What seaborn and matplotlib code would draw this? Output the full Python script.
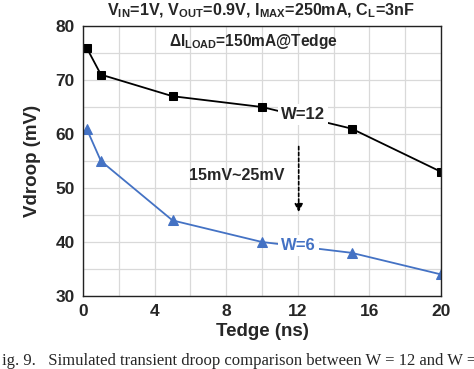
import numpy as np
import pandas as pd
import matplotlib
matplotlib.use("Agg")
import matplotlib.pyplot as plt
import seaborn as sns

tedge = [0.2, 1, 5, 10, 15, 20]
w12 = [76, 71, 67, 65, 61, 53]
w6 = [61, 55, 44, 40, 38, 34]
xticks = [0, 4, 8, 12, 16, 20]
yticks = [30, 40, 50, 60, 70, 80]

sns.set_style("white")
plt.rcParams['font.family'] = ['Liberation Sans', 'DejaVu Sans']
plt.rcParams['font.weight'] = 'bold'
plt.rcParams['mathtext.fontset'] = 'custom'
plt.rcParams['mathtext.rm'] = 'Liberation Sans:bold'
plt.rcParams['mathtext.it'] = 'Liberation Sans:bold'
plt.rcParams['mathtext.bf'] = 'Liberation Sans:bold'

df = pd.DataFrame({"Tedge": tedge * 2, "Vdroop": w12 + w6,
                   "W": ["W=12"] * 6 + ["W=6"] * 6})

fig = plt.figure(figsize=(4.74, 3.69), dpi=100)
ax = fig.add_axes([83 / 474, 1 - 296 / 369, (441 - 83) / 474, (296 - 26) / 369])

blue = "#4472C4"
sns.lineplot(data=df[df.W == "W=12"], x="Tedge", y="Vdroop", ax=ax, color="black",
             marker="s", markersize=6, markeredgecolor="black", linewidth=1.3)
sns.lineplot(data=df[df.W == "W=6"], x="Tedge", y="Vdroop", ax=ax, color=blue,
             marker="^", markersize=6.5, markeredgecolor=blue, linewidth=1.3)

ax.set_xlim(0, 20)
ax.set_ylim(30, 80)
ax.set_xticks(xticks)
ax.set_yticks(yticks)
ax.set_xticks(np.arange(0, 21, 2), minor=True)
ax.set_yticks(np.arange(30, 81, 5), minor=True)
ax.grid(which="both", color="#d9d9d9", linewidth=0.9)
ax.set_axisbelow(True)
ax.tick_params(which="both", length=0, labelsize=12.5, pad=6)
for lab in ax.get_xticklabels() + ax.get_yticklabels():
    lab.set_fontweight("bold")
for s in ax.spines.values():
    s.set_color("#222222")
    s.set_linewidth(1.0)

ax.set_xlabel("Tedge (ns)", fontsize=13.5, fontweight="bold", labelpad=3)
ax.set_ylabel("Vdroop (mV)", fontsize=13.5, fontweight="bold", labelpad=10)

ax.text(12.3, 63.6, "W=12", fontsize=12, fontweight="bold", ha="center", va="center",
        bbox=dict(facecolor="white", edgecolor="none", pad=2))
ax.text(12.05, 39.3, "W=6", fontsize=12, fontweight="bold", color=blue, ha="center",
        va="center", bbox=dict(facecolor="white", edgecolor="none", pad=2))
ax.text(8.6, 52.3, "15mV~25mV", fontsize=11.6, fontweight="bold", ha="center", va="center")
ax.annotate("", xy=(12.05, 45), xytext=(12.05, 58.2),
            arrowprops=dict(arrowstyle="-|>", linestyle=(0, (2, 1.5)), color="black",
                            lw=1.2, mutation_scale=12))
ax.text(9.5, 77.1, r"$\Delta$I$_{\mathrm{LOAD}}$=150mA@Tedge", fontsize=11.2,
        fontweight="bold", ha="center", va="center")

fig.text(261 / 474, 1 - 11 / 369,
         r"V$_{\mathrm{IN}}$=1V, V$_{\mathrm{OUT}}$=0.9V, I$_{\mathrm{MAX}}$=250mA, C$_{\mathrm{L}}$=3nF",
         fontsize=11.6, fontweight="bold", ha="center", va="center")

fig.text(2 / 474, 1 - 353 / 369,
         "ig. 9.   Simulated transient droop comparison between W = 12 and W = 6",
         fontsize=12, family="Liberation Serif", fontweight="normal", ha="left", va="top")

fig.savefig("out.png", dpi=100)
